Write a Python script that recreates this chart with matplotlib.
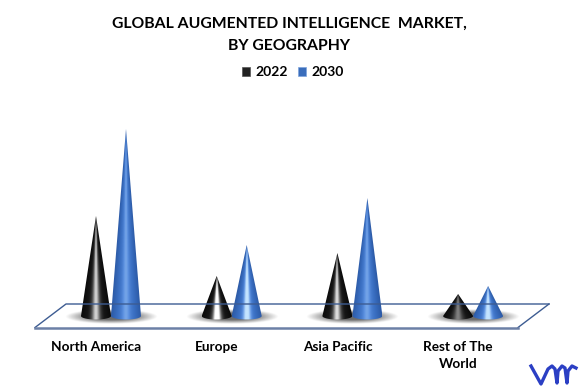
import numpy as np
import matplotlib
matplotlib.use('Agg')
import matplotlib.pyplot as plt
from matplotlib.colors import LinearSegmentedColormap
from matplotlib.patches import Patch, PathPatch
from matplotlib.path import Path

W, H = 579, 388

categories = ['North America', 'Europe', 'Asia Pacific', 'Rest of The\nWorld']
series_names = ['2022', '2030']
values_2022 = [100, 40, 63, 22]
values_2030 = [187, 71, 118, 30]

plt.rcParams['font.family'] = ['Lato', 'DejaVu Sans']

black_cmap = LinearSegmentedColormap.from_list('k', [(0, '#0a0a0a'), (0.15, '#161616'), (1, '#ffffff')])
blue_cmap = LinearSegmentedColormap.from_list('b', [(0, '#2c5aa6'), (0.15, '#3a6fc2'), (0.4, '#5b90e0'), (1, '#c4e4ff')])
shadow_cmap = LinearSegmentedColormap.from_list('s', [(0.42, 0.42, 0.42, 0), (0.42, 0.42, 0.42, 1)])


def fx(x):
    return x / W


def fy(y):
    return 1 - y / H


def draw_cone(ax, x, h, half_w, ry, cmap, glow):
    verts = [(x - half_w, 0), (x, h), (x + half_w, 0)]
    for a in np.linspace(0, np.pi, 30):
        verts.append((x + half_w * np.cos(a), -ry * np.sin(a)))
    verts.append(verts[0])
    codes = [Path.MOVETO] + [Path.LINETO] * (len(verts) - 2) + [Path.CLOSEPOLY]
    clip = PathPatch(Path(verts, codes), fc='none', ec='none', transform=ax.transData)
    ax.add_patch(clip)
    # shading follows the cone surface, so the highlight closes up at the tip
    ys = np.linspace(h, -ry, 200)
    us = np.linspace(-1, 1, 120)
    gu, gy = np.meshgrid(us, ys)
    u = np.clip(gu / np.clip(1 - gy / h, 0.01, None), -1, 1)
    shade = 0.15 * (1 - u ** 2) + 0.14 * np.exp(-(u / 0.55) ** 2) + glow * np.exp(-(u / 0.24) ** 2)
    im = ax.imshow(np.clip(shade, 0, 1), cmap=cmap, vmin=0, vmax=1, extent=[x - half_w, x + half_w, -ry, h], aspect='auto', zorder=4, interpolation='bilinear')
    im.set_clip_path(clip)


def draw_shadow(ax, x0, x1, yc, half_h):
    xx = np.linspace(-1, 1, 120)
    yy = np.linspace(-1, 1, 40)
    gx, gy = np.meshgrid(xx, yy)
    r = np.clip((1 - np.sqrt(gx ** 2 + gy ** 2)) * 1.8, 0, 1)
    ax.imshow(r, cmap=shadow_cmap, vmin=0, vmax=1, extent=[x0, x1, yc - half_h, yc + half_h], aspect='auto', zorder=3, interpolation='bilinear')


fig = plt.figure(figsize=(W / 100, H / 100), dpi=100)
# 1 y unit = 1 px, baseline at y=316 px, categories 120.7 px apart
ax = fig.add_axes([fx(35), fy(335), (549 - 35) / W, (335 - 120) / H])
px_per_cat = 120.7
ax.set_xlim((35 - 96) / px_per_cat, (549 - 96) / px_per_cat)
ax.set_ylim(-19, 196)
for s in ax.spines.values():
    s.set_visible(False)
ax.patch.set_alpha(0)

# floor
back = '#3d5c92'
front = '#6c80a6'
fig.add_artist(plt.Line2D([fx(35), fx(66), fx(549)], [fy(327.5), fy(304), fy(304)], color=back, lw=1.0))
fig.add_artist(plt.Line2D([fx(549), fx(518)], [fy(304), fy(327.5)], color=back, lw=1.0))
fig.add_artist(plt.Line2D([fx(35), fx(518)], [fy(327.5), fy(327.5)], color=front, lw=1.8))

offset = 30 / px_per_cat
half_w = 15 / px_per_cat
glow_2022 = [0.55, 1.0, 0.6, 0.25]
glow_2030 = [0.25, 0.85, 0.25, 0.85]
for i in range(len(categories)):
    draw_shadow(ax, i - 31 / px_per_cat, i + 62 / px_per_cat, 0, 7.5)
    draw_cone(ax, i, values_2022[i], half_w, 3.5, black_cmap, glow_2022[i])
    draw_cone(ax, i + offset, values_2030[i], half_w, 3.5, blue_cmap, glow_2030[i])

ax.set_xticks(range(len(categories)))
ax.set_xticklabels(categories, fontsize=9.8, fontweight='bold', color='#000000', linespacing=1.45)
ax.set_yticks([])
ax.tick_params(axis='x', length=0, pad=4.5)

fig.text(0.5, fy(24), 'GLOBAL AUGMENTED INTELLIGENCE  MARKET,', ha='center', va='center', fontsize=11.3, fontweight='bold', color='#000000')
fig.text(0.5, fy(46), 'BY GEOGRAPHY', ha='center', va='center', fontsize=11.3, fontweight='bold', color='#000000')

handles = [Patch(fc='#222222', ec='#555555', lw=0.5), Patch(fc='#3a6dbb', ec='#7fa5dd', lw=0.5)]
fig.legend(handles, series_names, loc='center', bbox_to_anchor=(fx(293), fy(72)), ncol=2, frameon=False,
           prop={'size': 10, 'weight': 'bold'}, handlelength=0.6, handleheight=0.6, handletextpad=0.4, columnspacing=0.7)

# logo
logo_pts = [(531, 366), (541, 384), (548, 369), (552, 366), (555, 369), (557, 383), (558, 371), (562, 366), (565, 368), (567, 383), (568, 371), (572, 366), (576, 368)]
fig.add_artist(plt.Line2D([fx(p[0]) for p in logo_pts], [fy(p[1]) for p in logo_pts], color='#2b3fc4', lw=2.4, solid_joinstyle='round'))

fig.savefig('out.png', dpi=100)
